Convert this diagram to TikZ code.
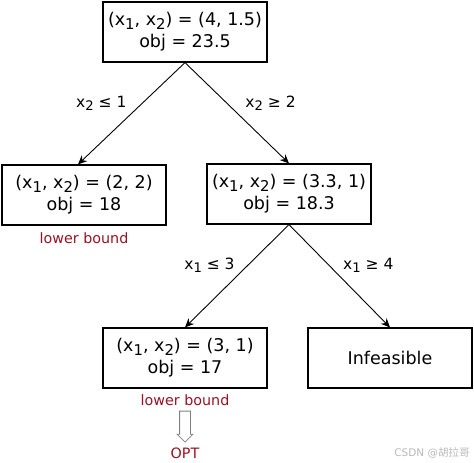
\documentclass[tikz,border=0pt]{standalone}
\usepackage{fontspec}
\setmainfont{DejaVu Sans}
\newfontfamily\cjk{Noto Sans CJK SC}
\usepackage{xcolor}
\usetikzlibrary{
    shapes.arrows,
    arrows.meta,
    positioning
}
\definecolor{boundred}{RGB}{155,15,35}
\newcommand{\sx}[1]{x\raisebox{-0.35ex}{\fontsize{0.85em}{1em}\selectfont #1}}

\begin{document}
\begin{tikzpicture}[
        x=1pt, y=-1pt,
        block/.style={draw, line width=1.2pt, minimum width=164pt, minimum height=60pt, inner sep=0pt, align=center, font=\fontsize{17.5}{22}\selectfont},
        arrow/.style={-{Stealth[length=9pt, width=8pt]}, line width=0.9pt},
        cond/.style={font=\fontsize{15.5}{17}\selectfont},
        bound/.style={text=boundred, font=\fontsize{14.3}{16}\selectfont}
    ]
        \useasboundingbox (0,0) rectangle (474,463);

        % Nodes of the tree
        \node[block] (root) at (185,32) {(\sx{1}, \sx{2}) = (4, 1.5)\\obj = 23.5};
        \node[block] (left) at (84,195) {(\sx{1}, \sx{2}) = (2, 2)\\obj = 18};
        \node[block] (right) at (289,194) {(\sx{1}, \sx{2}) = (3.3, 1)\\obj = 18.3};
        \node[block] (rleft) at (185,358) {(\sx{1}, \sx{2}) = (3, 1)\\obj = 17};
        \node[block] (rright) at (390,358) {Infeasible};

        % Branches
        \draw[arrow] (root.south) -- node[cond, pos=0.4, left=12pt] {\sx{2} ≤ 1} (left.north -| 78,0);
        \draw[arrow] (root.south) -- node[cond, pos=0.4, right=15pt] {\sx{2} ≥ 2} (right.north);
        \draw[arrow] (right.south) -- node[cond, pos=0.4, left=9pt] {\sx{1} ≤ 3} (rleft.north);
        \draw[arrow] (right.south) -- node[cond, pos=0.4, right=10pt] {\sx{1} ≥ 4} (rright.north);

        % Bounds
        \node[bound, below=3pt of left] (lb1) {lower bound};
        \node[bound, below=2pt of rleft] (lb2) {lower bound};
        \node[single arrow, draw=gray, fill=white, line width=0.8pt, rotate=-90, minimum height=31pt, inner sep=5pt, single arrow head extend=2.5pt, below=2pt of lb2, anchor=west] (down) {};
        \node[bound, below=2pt of down.east] (opt) {OPT};

        % Watermark
        \node[text=gray!55, font=\fontsize{10.5}{12}\selectfont] (mark) at (432,453) {CSDN @{\cjk 胡拉哥}};

    \end{tikzpicture}
\end{document}
